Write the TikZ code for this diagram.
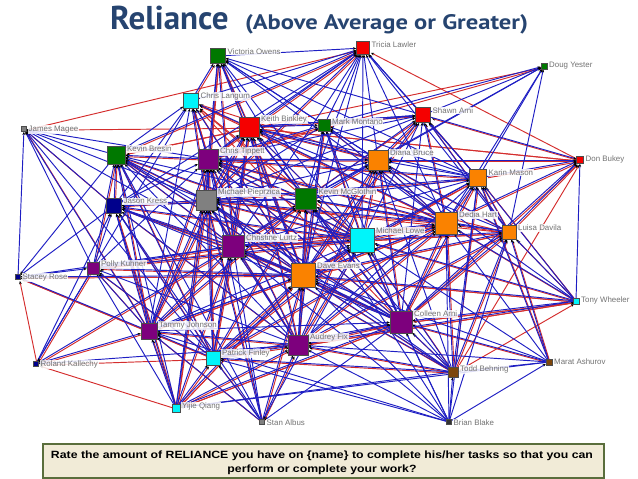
\documentclass[tikz,border=0pt]{standalone}
\usepackage{fontspec}
\setmainfont{Liberation Sans}
\newfontfamily\titlefont{PT Sans}
\newfontfamily\titlewide[FakeStretch=1.17]{PT Sans}
\newfontfamily\qfont[FakeStretch=1.17]{Liberation Sans}
\usetikzlibrary{arrows.meta}
\pgfdeclarelayer{edges}
\pgfsetlayers{edges,main}
\definecolor{gn}{RGB}{0,120,0}
\definecolor{rd}{RGB}{245,0,0}
\definecolor{cy}{RGB}{0,245,250}
\definecolor{pu}{RGB}{125,0,125}
\definecolor{og}{RGB}{250,130,0}
\definecolor{gy}{RGB}{128,128,128}
\definecolor{nv}{RGB}{0,0,140}
\definecolor{bw}{RGB}{125,70,10}
\definecolor{eb}{RGB}{30,30,195}
\definecolor{er}{RGB}{212,45,45}
\definecolor{ttl}{RGB}{38,68,112}
\definecolor{boxfill}{RGB}{241,235,215}
\definecolor{boxline}{RGB}{90,110,60}
\tikzset{
  sq/.style={rectangle, inner sep=0pt, draw=black!70, line width=0.4pt, minimum size=#1},
  lbl/.style={font=\fontsize{7.9}{8}\selectfont, text=black!55, fill=white, fill opacity=0.85, text opacity=1, inner sep=0.8pt},
  nl/.style={label={[lbl,anchor=west,yshift=-3pt,xshift=1pt]north east:#1}},
  be/.style={eb, line width=0.95pt, -{Stealth[length=3.2pt,width=2.6pt,color=black]}},
  re/.style={er, line width=0.95pt, transform canvas={xshift=1.3pt,yshift=-1.3pt}, -{Stealth[length=3.2pt,width=2.6pt,color=black]}},
}
\begin{document}
\begin{tikzpicture}[x=1pt,y=-1pt]
\useasboundingbox (0,0) rectangle (638,479);
\clip (0,0) rectangle (638,479);
% title
\node[anchor=base west, text=ttl, inner sep=0pt, font=\titlefont\bfseries\fontsize{33}{33}\selectfont] (t1) at (110,29) {Reliance};
\node[anchor=base west, text=ttl, inner sep=0pt, font=\titlewide\bfseries\fontsize{21}{21}\selectfont] (t2) at (245,29) {(Above Average or Greater)};
% nodes
\node[sq=15pt, fill=gn, nl={Victoria Owens}] (VO) at (218,56) {};
\node[sq=13pt, fill=rd, nl={Tricia Lawler}] (TL) at (363,48) {};
\node[sq=6pt, fill=gn, nl={Doug Yester}] (DY) at (544,66) {};
\node[sq=15pt, fill=cy, nl={Chris Langum}] (CLa) at (191,101) {};
\node[sq=5pt, fill=gy, nl={James Magee}] (JM) at (24,129) {};
\node[sq=20pt, fill=rd, nl={Keith Binkley}] (KB) at (249,127) {};
\node[sq=12pt, fill=gn, nl={Mark Montano}] (MM) at (324,125) {};
\node[sq=15pt, fill=rd, nl={Shawn Arni}] (SA) at (423,115) {};
\node[sq=18pt, fill=gn, nl={Kevin Bresin}] (KBr) at (116,155) {};
\node[sq=20pt, fill=pu, nl={Chris Tippett}] (CT) at (208,159) {};
\node[sq=20pt, fill=og, nl={Diana Bruce}] (DB) at (378,160) {};
\node[sq=7pt, fill=rd, nl={Don Bukey}] (DBu) at (580,160) {};
\node[sq=17pt, fill=og, nl={Karin Mason}] (KM) at (478,178) {};
\node[sq=15pt, fill=nv, nl={Jason Kress}] (JK) at (114,206) {};
\node[sq=20pt, fill=gy, nl={Michael Pieprzica}] (MP) at (206,200) {};
\node[sq=21pt, fill=gn, nl={Kevin McGlothin}] (KMc) at (306,199) {};
\node[sq=22pt, fill=og, nl={Dedia Hart}] (DH) at (446,223) {};
\node[sq=14pt, fill=og, nl={Luisa Davila}] (LD) at (509,232) {};
\node[sq=24pt, fill=cy, nl={Michael Lowe}] (ML) at (362,240) {};
\node[sq=22pt, fill=pu, nl={Christine Lurtz}] (CLu) at (233,246) {};
\node[sq=12pt, fill=pu, nl={Polly Kuhner}] (PK) at (93,268) {};
\node[sq=5pt, fill=nv, nl={Stacey Rose}] (SR) at (18,277) {};
\node[sq=24pt, fill=og, nl={Dave Evans}] (DE) at (303,275) {};
\node[sq=6pt, fill=cy, nl={Tony Wheeler}] (TW) at (576,301) {};
\node[sq=22pt, fill=pu, nl={Colleen Arni}] (CA) at (401,322) {};
\node[sq=16pt, fill=pu, nl={Tammy Johnson}] (TJ) at (149,331) {};
\node[sq=20pt, fill=pu, nl={Audrey Fix}] (AF) at (298,345) {};
\node[sq=14pt, fill=cy, nl={Patrick Finley}] (PF) at (213,358) {};
\node[sq=6pt, fill=bw, nl={Marat Ashurov}] (MA) at (549,362) {};
\node[sq=10pt, fill=bw, nl={Todd Behning}] (TB) at (453,372) {};
\node[sq=5pt, fill=nv, nl={Roland Kallechy}] (RK) at (36,364) {};
\node[sq=8pt, fill=cy, nl={Yijie Qiang}] (YQ) at (176,408) {};
\node[sq=5pt, fill=gy, nl={Stan Albus}] (SAl) at (262,422) {};
\node[sq=5pt, fill=black!80, nl={Brian Blake}] (BB) at (449,422) {};
% edges
\begin{pgfonlayer}{edges}
\foreach \s/\t in {JM/KB,JM/TL,JM/JK,JM/TJ,DY/KBr,DY/CT,TL/DBu,TL/KBr,TL/CT,TL/MP,
 VO/KB,VO/CLa,VO/CT,VO/MP,VO/DE,VO/CLu,
 CLa/KB,CLa/CT,CLa/MP,CLa/KMc,CLa/DB,CLa/ML,CLa/DE,CLa/CLu,CLa/DH,CLa/CA,
 KB/CT,KB/MP,KB/KMc,KB/DB,KB/DH,KB/ML,KB/CLu,KB/DE,KB/CA,KB/AF,KB/PF,KB/TJ,KB/DBu,KB/SA,
 SA/DBu,SA/DB,SA/KM,SA/DH,SA/LD,SA/DE,SA/CLu,MM/DE,MM/DH,MM/ML,MM/CT,
 KBr/KB,KBr/CT,KBr/MP,KBr/CLu,KBr/DE,KBr/ML,KBr/JK,KBr/PK,KBr/TJ,KBr/PF,
 CT/KMc,CT/DB,CT/DH,CT/ML,CT/CLu,CT/DE,CT/AF,CT/CA,CT/PF,CT/TJ,CT/YQ,CT/LD,CT/KM,
 DB/DBu,DB/DH,DB/ML,DB/DE,DB/CA,DB/AF,DB/LD,DB/CLu,
 DBu/KM,DBu/DH,DBu/LD,DBu/TB,DBu/CA,DBu/KB,
 KM/DH,KM/LD,KM/DE,KM/ML,KM/CA,KM/TB,KM/TW,KM/MA,
 JK/MP,JK/CLu,JK/DE,JK/ML,JK/TJ,JK/PF,JK/YQ,JK/AF,
 MP/CLu,MP/DE,MP/ML,MP/DH,MP/CA,MP/AF,MP/PF,MP/TJ,MP/YQ,MP/SAl,MP/KM,MP/LD,
 KMc/DE,KMc/ML,KMc/CA,KMc/DH,KMc/AF,KMc/TJ,KMc/PF,
 DH/LD,DH/DE,DH/CA,DH/TB,DH/TW,DH/AF,DH/ML,DH/CLu,DH/PF,
 LD/CA,LD/TB,LD/TW,LD/MA,LD/DE,LD/AF,LD/ML,
 ML/DE,ML/CA,ML/TB,ML/TW,ML/AF,ML/PF,ML/CLu,
 CLu/DE,CLu/AF,CLu/CA,CLu/PF,CLu/TJ,CLu/YQ,CLu/TB,CLu/LD,CLu/DH,
 PK/TJ,PK/PF,PK/DE,PK/CLu,PK/ML,PK/DH,SR/RK,SR/TJ,SR/DE,SR/PF,
 RK/PF,RK/YQ,RK/TJ,RK/PK,RK/CLu,
 DE/AF,DE/CA,DE/TB,DE/TW,DE/PF,DE/TJ,DE/YQ,DE/SAl,DE/LD,DE/DH,
 CA/TB,CA/TW,CA/AF,CA/PF,CA/MA,CA/YQ,TJ/PF,TJ/YQ,TJ/SAl,TJ/AF,TJ/DE,
 AF/PF,AF/SAl,AF/TB,AF/TW,AF/YQ,PF/YQ,PF/SAl,PF/TB,TW/CA,TW/AF,TW/DE,TW/TB,YQ/DE,YQ/CA}
  \draw[re] (\t) -- (\s);
\foreach \s/\t in {TL/VO,TL/CLa,TL/KB,TL/MM,TL/CT,TL/KBr,TL/MP,TL/KMc,TL/DB,TL/SA,TL/KM,TL/DH,TL/ML,TL/CLu,TL/DE,TL/JK,TL/LD,
 VO/CLa,VO/KB,VO/CT,VO/MM,VO/KMc,VO/DB,VO/SA,VO/KM,VO/MP,VO/ML,VO/DH,VO/CLu,VO/DE,
 DY/SA,DY/DB,DY/KM,DY/DH,DY/LD,DY/MM,DY/KMc,
 CLa/KBr,CLa/CT,CLa/MP,CLa/JK,CLa/KB,CLa/CLu,CLa/TJ,CLa/PK,CLa/DE,
 JM/KBr,JM/CT,JM/JK,JM/SR,JM/PK,JM/TJ,JM/CLu,JM/MP,JM/PF,
 KB/CT,KB/MP,KB/KMc,KB/DB,KB/SA,KB/KM,KB/DH,KB/ML,KB/CLu,KB/DE,KB/AF,KB/CA,KB/TJ,KB/PF,KB/LD,
 MM/KB,MM/CT,MM/MP,MM/KMc,MM/DB,MM/SA,MM/KM,MM/DH,MM/ML,MM/DE,MM/CA,MM/AF,
 SA/KB,SA/DB,SA/KMc,SA/KM,SA/DH,SA/ML,SA/LD,SA/CA,SA/DE,SA/MP,SA/CT,
 KBr/CT,KBr/MP,KBr/JK,KBr/KMc,KBr/CLu,KBr/ML,KBr/DE,KBr/PK,KBr/TJ,KBr/PF,KBr/AF,KBr/YQ,KBr/SAl,KBr/CA,
 CT/MP,CT/KMc,CT/DB,CT/KM,CT/DH,CT/ML,CT/CLu,CT/DE,CT/AF,CT/CA,CT/TJ,CT/PF,CT/YQ,CT/SAl,CT/JK,CT/PK,
 DB/KMc,DB/KM,DB/DH,DB/LD,DB/ML,DB/DE,DB/CA,DB/AF,DB/TB,DB/CLu,DB/MP,DB/CT,DB/DBu,DB/TW,
 DBu/KM,DBu/DH,DBu/LD,DBu/TW,DBu/SA,DBu/CA,
 KM/DH,KM/LD,KM/ML,KM/DE,KM/CA,KM/AF,KM/TB,KM/MA,KM/TW,KM/KMc,KM/CLu,KM/BB,
 JK/MP,JK/CLu,JK/PK,JK/TJ,JK/PF,JK/YQ,JK/DE,JK/ML,JK/KMc,JK/AF,JK/CA,JK/SAl,JK/RK,
 MP/KMc,MP/CLu,MP/ML,MP/DE,MP/AF,MP/CA,MP/TJ,MP/PF,MP/YQ,MP/SAl,MP/DH,MP/KM,MP/TB,
 KMc/DH,KMc/ML,KMc/DE,KMc/CLu,KMc/AF,KMc/CA,KMc/PF,KMc/TJ,KMc/TB,KMc/BB,KMc/LD,
 DH/LD,DH/ML,DH/DE,DH/CA,DH/AF,DH/TB,DH/MA,DH/TW,DH/BB,DH/CLu,DH/PF,DH/TJ,
 LD/ML,LD/DE,LD/CA,LD/TB,LD/MA,LD/TW,LD/BB,LD/AF,
 ML/DE,ML/CLu,ML/CA,ML/AF,ML/TB,ML/BB,ML/PF,ML/TJ,ML/TW,ML/MA,
 CLu/DE,CLu/AF,CLu/CA,CLu/PF,CLu/TJ,CLu/YQ,CLu/SAl,CLu/PK,CLu/BB,CLu/TB,
 PK/TJ,PK/PF,PK/DE,PK/ML,PK/AF,PK/YQ,PK/SR,PK/RK,
 SR/KBr,SR/JK,SR/TJ,SR/CLu,SR/DE,
 DE/AF,DE/CA,DE/TB,DE/BB,DE/PF,DE/TJ,DE/YQ,DE/SAl,DE/MA,DE/TW,
 CA/AF,CA/TB,CA/BB,CA/MA,CA/TW,CA/PF,CA/TJ,
 TJ/AF,TJ/PF,TJ/YQ,TJ/SAl,TJ/RK,TJ/BB,
 AF/PF,AF/YQ,AF/SAl,AF/BB,AF/TB,AF/MA,AF/TW,
 PF/YQ,PF/SAl,PF/BB,PF/TB,TB/MA,TB/BB,MA/BB,
 RK/PK,RK/AF,RK/CLu,YQ/CA,YQ/TB,YQ/MA,SAl/CA,SAl/ML}
  \draw[be] (\t) -- (\s);
\end{pgfonlayer}
% question box
\node[draw=boxline, line width=1.6pt, fill=boxfill, anchor=north west, minimum width=561pt, minimum height=34pt, inner sep=0pt] (qbox) at (42,443) {};
\node[align=center, anchor=base, inner sep=0pt, font=\qfont\bfseries\fontsize{10.5}{14}\selectfont] (qtext) at (322,472) {Rate the amount of RELIANCE you have on \{name\} to complete his/her tasks so that you can\\perform or complete your work?};
\end{tikzpicture}
\end{document}
